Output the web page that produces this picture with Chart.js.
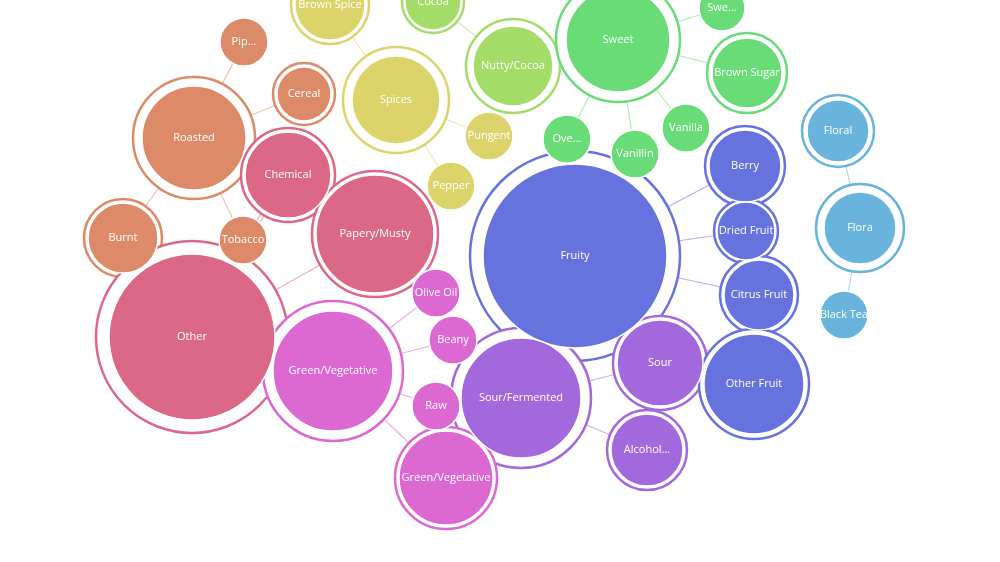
<!DOCTYPE html>
<html>
<head>
<meta charset="utf-8">
<script src="https://cdn.jsdelivr.net/npm/chart.js@4"></script>
<style>
  html, body { margin: 0; padding: 0; background: #fff; }
  #wrap { width: 1000px; height: 562px; }
</style>
</head>
<body>
<div id="wrap"><canvas id="graph"></canvas></div>
<script>
// node data (x/y in picture units, radius in px)
const names = ['Brown Spice', 'Cocoa', 'Nutty/Cocoa', 'Sweet', 'Swe...', 'Brown Sugar', 'Pip...', 'Cereal',
  'Roasted', 'Spices', 'Pungent', 'Ove...', 'Vanillin', 'Vanilla', 'Floral', 'Chemical', 'Pepper', 'Berry',
  'Fruity', 'Flora', 'Burnt', 'Tobacco', 'Papery/Musty', 'Dried Fruit', 'Citrus Fruit', 'Black Tea',
  'Olive Oil', 'Other', 'Beany', 'Green/Vegetative', 'Sour', 'Other Fruit', 'Raw', 'Sour/Fermented',
  'Alcohol...', 'Green/Vegetative ']
const xs = [330, 433, 513, 618, 722, 747, 244, 304, 194, 396, 489, 567, 635, 686, 838, 288, 451, 745,
  575, 860, 123, 243, 375, 746, 759, 844, 436, 192, 453, 333, 660, 754, 436, 521, 647, 446]
const ys = [5, 2, 66, 40, 8, 73, 42, 94, 138, 100, 136, 139, 154, 128, 131, 175, 186, 166, 256, 228, 238,
  240, 234, 231, 295, 315, 293, 337, 340, 371, 363, 384, 406, 398, 450, 478]
const inner = [35, 28, 40, 52, 23, 35, 24, 27, 52, 44, 24, 24, 24, 24, 31, 43, 24, 36, 92, 36, 35, 24, 59,
  29, 35, 24, 24, 83, 24, 60, 43, 50, 24, 60, 36, 47]
const rings = [39, 31, 47, 62, 0, 40, 0, 31, 61, 53, 0, 0, 0, 0, 36, 47, 0, 40, 105, 44, 39, 0, 63, 32, 39,
  0, 0, 96, 0, 70, 47, 55, 0, 70, 40, 51]
const groups = ['y', 'g', 'g', 'G', 'G', 'G', 'o', 'o', 'o', 'y', 'y', 'G', 'G', 'G', 'b', 'p', 'y', 'f',
  'f', 'b', 'o', 'o', 'p', 'f', 'f', 'b', 'm', 'p', 'm', 'm', 'v', 'f', 'm', 'v', 'v', 'm']
const links = [[8, 6], [8, 7], [8, 20], [8, 21], [15, 21], [9, 0], [9, 10], [9, 16], [2, 1], [3, 2], [3, 4],
  [3, 5], [3, 13], [3, 12], [3, 11], [18, 17], [18, 23], [18, 24], [18, 31], [19, 14], [19, 25], [27, 22],
  [29, 26], [29, 28], [29, 32], [29, 35], [33, 30], [33, 34], [27, 15], [27, 29]]

const colors = { o: '#dd8a68', y: '#dcd46a', g: '#a3dc68', G: '#69dc78', b: '#68b4dc', p: '#dc6888',
  f: '#6672dd', m: '#dc68d2', v: '#a368dc' }

const pts = names.map((n, i) => ({ x: xs[i], y: ys[i], r: inner[i] }))
const ringPts = names.map((n, i) => ({ x: xs[i], y: ys[i], r: rings[i] }))

const linkSets = links.map(([a, b]) => ({
  type: 'line',
  data: [{ x: xs[a], y: ys[a] }, { x: xs[b], y: ys[b] }],
  borderColor: colors[groups[a]] + '88',
  borderWidth: 1.2,
  pointRadius: 0,
  clip: false,
  order: 3
}))

const labelPlugin = {
  id: 'labels',
  afterDatasetsDraw(chart) {
    const { ctx, scales } = chart
    ctx.save()
    ctx.fillStyle = '#fff'
    ctx.font = '11px "Open Sans", sans-serif'
    ctx.textAlign = 'center'
    ctx.textBaseline = 'middle'
    names.forEach((n, i) => {
      ctx.fillText(n.trim(), scales.x.getPixelForValue(xs[i]), scales.y.getPixelForValue(ys[i]))
    })
    ctx.restore()
  }
}

new Chart(document.getElementById('graph'), {
  type: 'bubble',
  data: {
    datasets: [
      ...linkSets,
      {
        data: ringPts,
        backgroundColor: '#ffffff',
        borderColor: names.map((n, i) => rings[i] ? colors[groups[i]] : 'rgba(0,0,0,0)'),
        borderWidth: 2.5,
        clip: false,
        order: 2
      },
      {
        data: pts,
        backgroundColor: names.map((n, i) => colors[groups[i]]),
        borderColor: '#ffffff',
        borderWidth: 1.5,
        clip: false,
        order: 1
      }
    ]
  },
  options: {
    responsive: true,
    maintainAspectRatio: false,
    animation: false,
    layout: { padding: 0, autoPadding: false },
    plugins: { legend: { display: false }, tooltip: { enabled: false } },
    scales: {
      x: { type: 'linear', min: 0, max: 1000, display: false },
      y: { type: 'linear', min: 0, max: 562, reverse: true, display: false }
    }
  },
  plugins: [labelPlugin]
})
</script>
</body>
</html>
